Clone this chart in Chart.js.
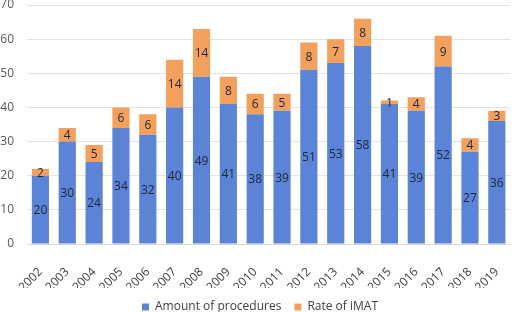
<!DOCTYPE html>
<html>
<head>
<meta charset="utf-8">
<script src="https://cdn.jsdelivr.net/npm/chart.js@4"></script>
<style>
  html, body { margin: 0; padding: 0; background: #fff; }
  #wrap { width: 520px; height: 312px; }
</style>
</head>
<body>
<div id="wrap"><canvas id="procChart"></canvas></div>
<script>
var years = ['2002','2003','2004','2005','2006','2007','2008','2009','2010','2011','2012','2013','2014','2015','2016','2017','2018','2019'];
var procedures = [20, 30, 24, 34, 32, 40, 49, 41, 38, 39, 51, 53, 58, 41, 39, 52, 27, 36];
var imatRate = [2, 4, 5, 6, 6, 14, 14, 8, 6, 5, 8, 7, 8, 1, 4, 9, 4, 3];
var yTicks = [0, 10, 20, 30, 40, 50, 60, 70];

// draws the value in the middle of each stacked segment
var segmentLabels = {
    id: 'segmentLabels',
    afterDatasetsDraw: function(chart) {
        var ctx = chart.ctx;
        ctx.save();
        ctx.font = '12px "Open Sans", sans-serif';
        ctx.fillStyle = '#1c2638';
        ctx.textAlign = 'center';
        ctx.textBaseline = 'middle';
        chart.data.datasets.forEach(function(ds, i) {
            var meta = chart.getDatasetMeta(i);
            meta.data.forEach(function(bar, j) {
                var mid = (bar.y + bar.base) / 2;
                ctx.fillText(ds.data[j], bar.x, mid + 1);
            });
        });
        ctx.restore();
    }
};

var chart = new Chart(document.getElementById('procChart'), {
    type: 'bar',
    data: {
        labels: years,
        datasets: [{
            label: 'Amount of procedures',
            data: procedures,
            backgroundColor: '#5b84d6'
        }, {
            label: 'Rate of iMAT',
            data: imatRate,
            backgroundColor: '#f3a05c'
        }]
    },
    options: {
        responsive: true,
        maintainAspectRatio: false,
        animation: false,
        layout: { padding: { left: 0, right: 0, top: 5, bottom: -11 } },
        datasets: { bar: { barPercentage: 0.64, categoryPercentage: 1 } },
        plugins: {
            tooltip: { enabled: false },
            legend: {
                position: 'bottom',
                labels: {
                    boxWidth: 7,
                    boxHeight: 7,
                    padding: 13,
                    color: '#404040',
                    font: { family: '"Open Sans", sans-serif', size: 12 }
                }
            }
        },
        scales: {
            x: {
                stacked: true,
                afterFit: function(scale) { scale.height = 44; },
                grid: { display: false },
                border: { color: '#d9d9d9' },
                ticks: {
                    minRotation: 45,
                    maxRotation: 45,
                    padding: 13,
                    color: '#404040',
                    font: { family: '"Open Sans", sans-serif', size: 12 }
                }
            },
            y: {
                stacked: true,
                min: 0,
                max: 70,
                afterFit: function(scale) {
                    scale.width = 27;
                    scale.paddingTop = 0;
                    scale.paddingBottom = 0;
                },
                afterBuildTicks: function(scale) {
                    scale.ticks = yTicks.map(function(v) { return { value: v }; });
                },
                grid: { color: '#e3e3e3', drawTicks: false },
                border: { display: false },
                ticks: {
                    padding: 13,
                    color: '#595959',
                    font: { family: '"Open Sans", sans-serif', size: 12 }
                }
            }
        }
    },
    plugins: [segmentLabels]
});
</script>
</body>
</html>
